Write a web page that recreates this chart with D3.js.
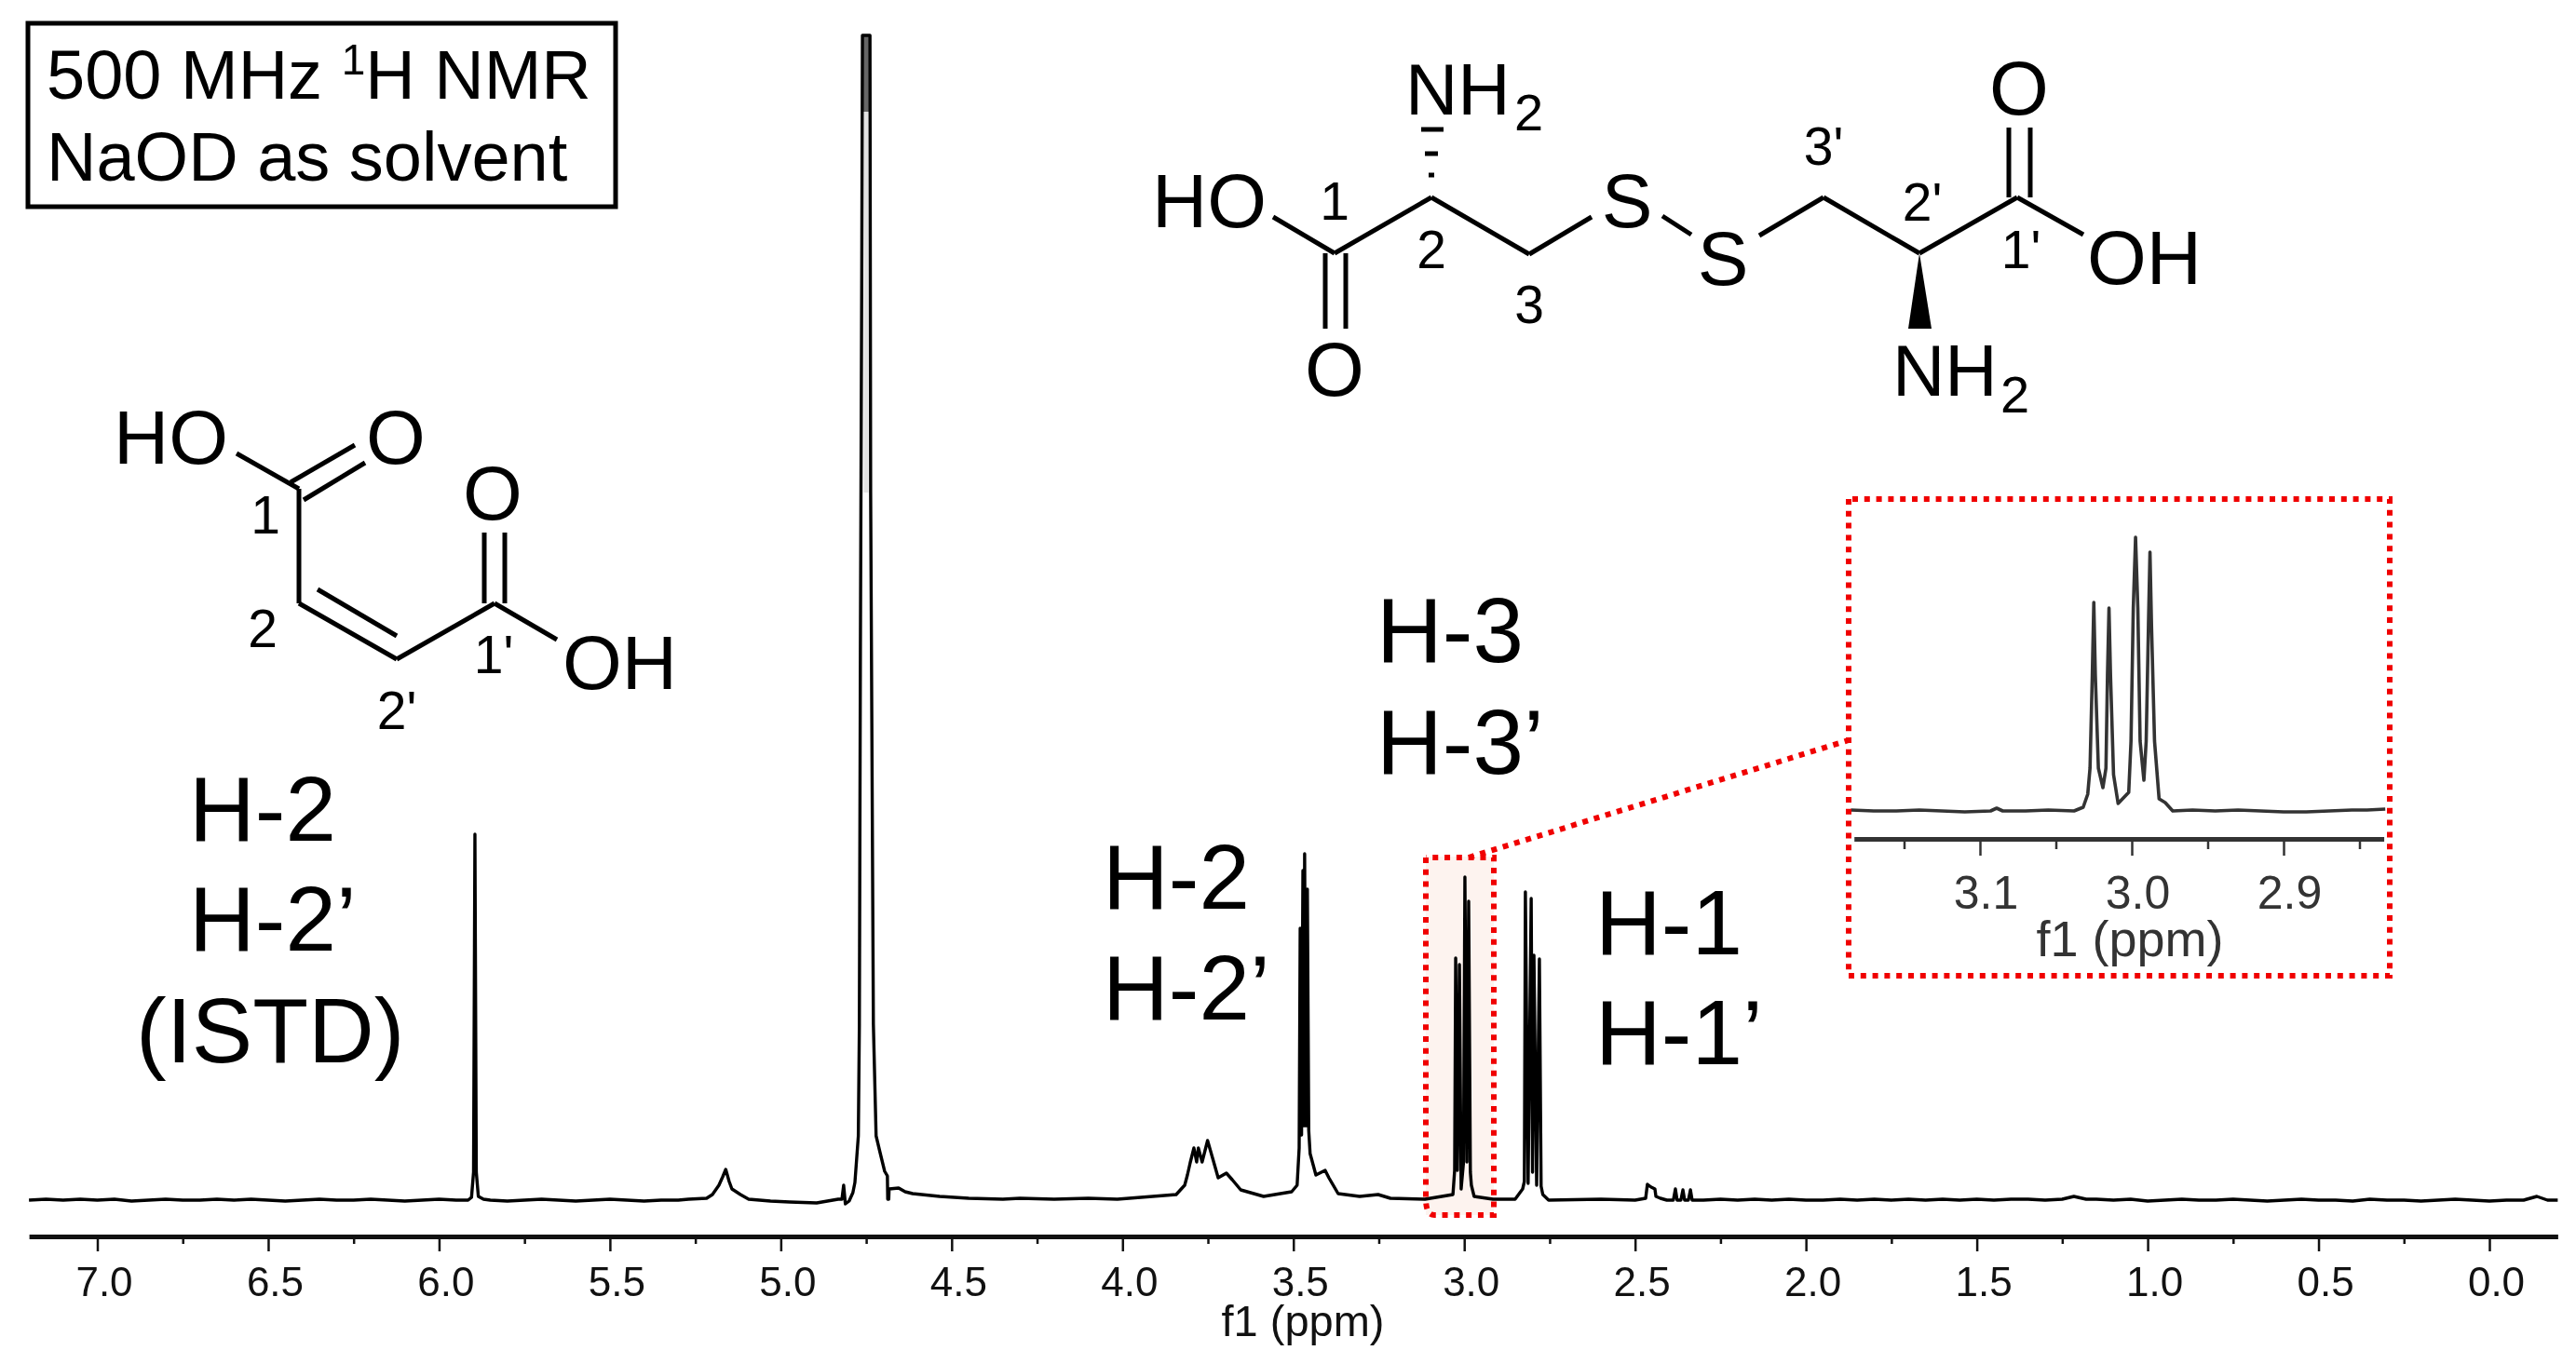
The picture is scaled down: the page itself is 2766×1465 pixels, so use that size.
<!DOCTYPE html>
<html>
<head>
<meta charset="utf-8">
<script src="https://cdn.jsdelivr.net/npm/d3@7/dist/d3.min.js"></script>
<style>
  html, body { margin: 0; padding: 0; background: #fff; }
  svg { display: block; filter: blur(0.7px); }
  text { font-family: "Liberation Sans", Arial, sans-serif; fill: #000; }
</style>
</head>
<body>
<svg id="chart" width="2766" height="1465"></svg>
<script>
// spectrum (ppm, intensity in a.u.)
const baseLeftPpm = [7.20, 7.15, 7.10, 7.05, 7.00, 6.95, 6.90, 6.85, 6.80, 6.75, 6.70, 6.65, 6.60, 6.55, 6.50, 6.45, 6.40, 6.35, 6.30, 6.25, 6.20, 6.15, 6.10, 6.05, 6.00, 5.95, 5.915];
const baseLeftInt = [0, 1, 0, 1, 0, 1, -1, 0, 1, 0, 0, 1, 0, 1, 0, -1, 0, 1, 0, 0, 1, 0, -1, 0, 1, 0, 0];

const maleicPpm = [5.905, 5.899, 5.895, 5.891, 5.885, 5.87];
const maleicInt = [3, 30, 393, 30, 4, 1];

const midPpm = [5.85, 5.80, 5.75, 5.70, 5.65, 5.60, 5.55, 5.50, 5.45, 5.40, 5.35, 5.30, 5.27, 5.217, 5.200, 5.181, 5.170, 5.161, 5.151, 5.143, 5.118, 5.094, 5.03, 4.974, 4.895, 4.832, 4.821];
const midInt = [0, -1, 0, 1, 0, -1, 0, 1, 0, -1, 0, 0, 1, 2, 6, 16, 25, 33, 20, 12, 6, 1, -1, -2, -3, 1, 1];

const waterPpm = [4.816, 4.811, 4.800, 4.789, 4.783, 4.778, 4.773, 4.770, 4.767, 4.763, 4.761, 4.739, 4.737, 4.729, 4.721, 4.710, 4.696, 4.688, 4.687, 4.684, 4.683, 4.655, 4.636, 4.614, 4.535, 4.45, 4.35, 4.30, 4.20, 4.10, 4.015];
const waterInt = [16, -4, -1, 8, 19, 44, 69, 189, 589, 1000, 1251, 1251, 760, 189, 69, 52, 31, 26, 1, 1, 12, 13, 9, 7, 4, 2, 1, 2, 1, 2, 1];

// the flat top of the water peak is filled in grey
const waterCorePpm = [4.75, 4.75];
const waterCoreInt = [1251, 1169];
const waterGapInt = [1169, 760];

const broadPpm = [3.843, 3.818, 3.810, 3.802, 3.791, 3.783, 3.778, 3.767, 3.751, 3.737, 3.720, 3.696, 3.679, 3.654, 3.587, 3.505, 3.489];
const broadInt = [6, 16, 27, 40, 56, 41, 56, 41, 64, 46, 24, 29, 22, 11, 4, 9, 16];

const h2Ppm = [3.483, 3.480, 3.476, 3.472, 3.469, 3.467, 3.463, 3.459, 3.455, 3.451, 3.448, 3.434, 3.407, 3.396, 3.369, 3.306, 3.252, 3.216, 3.115];
const h2Int = [56, 292, 70, 354, 80, 372, 80, 334, 75, 50, 46, 27, 32, 24, 7, 4, 6, 2, 1];

const h3Ppm = [3.033, 3.028, 3.025, 3.020, 3.014, 3.009, 3.002, 2.998, 2.992, 2.987, 2.982, 2.979, 2.971, 2.916];
const h3Int = [6, 32, 260, 32, 253, 12, 41, 347, 41, 321, 30, 16, 4, 1];

const h1Ppm = [2.851, 2.829, 2.824, 2.821, 2.813, 2.804, 2.800, 2.796, 2.788, 2.780, 2.775, 2.770, 2.753];
const h1Int = [1, 12, 20, 331, 18, 324, 30, 263, 16, 259, 15, 6, 0];

const smallPpm = [2.60, 2.50, 2.469, 2.464, 2.453, 2.442, 2.439, 2.426, 2.407, 2.388, 2.382, 2.377, 2.366, 2.360, 2.355, 2.344, 2.338, 2.333];
const smallInt = [1, 0, 2, 17, 14, 12, 4, 2, 0, 0, 12, 0, 0, 11, 0, 0, 11, 0];

const baseRightPpm = [2.30, 2.25, 2.20, 2.15, 2.10, 2.05, 2.00, 1.95, 1.90, 1.85, 1.80, 1.75, 1.70, 1.65, 1.60, 1.55, 1.50, 1.45, 1.40, 1.35, 1.30, 1.25, 1.216, 1.18, 1.15, 1.10, 1.05, 1.00, 0.95, 0.90, 0.85, 0.80, 0.75, 0.70, 0.65, 0.60, 0.55, 0.50, 0.45, 0.40, 0.35, 0.30, 0.25, 0.20, 0.15, 0.10, 0.05, 0.00, -0.05, -0.10, -0.139, -0.17, -0.20];
const baseRightInt = [0, 1, 0, 1, 0, 1, 0, 0, 1, 0, 1, 0, 1, 0, 1, 0, 1, 0, 1, 1, 0, 1, 4, 1, 1, 0, 1, -1, 0, 1, 0, 0, 1, 0, -1, 0, 1, 0, 0, -1, 1, 0, 0, -1, 0, 1, 0, -1, 0, 0, 4, 0, 0];

const ppmValues = [].concat(baseLeftPpm, maleicPpm, midPpm, waterPpm, broadPpm, h2Ppm, h3Ppm, h1Ppm, smallPpm, baseRightPpm);
const intensityValues = [].concat(baseLeftInt, maleicInt, midInt, waterInt, broadInt, h2Int, h3Int, h1Int, smallInt, baseRightInt);

// zoomed 3.0 ppm region
const insetPpm = [3.185, 3.17, 3.155, 3.14, 3.125, 3.11, 3.093, 3.089, 3.085, 3.07, 3.055, 3.038, 3.032, 3.029, 3.0275, 3.026, 3.025, 3.024, 3.022, 3.019, 3.017, 3.016, 3.015, 3.014, 3.012, 3.009, 3.002, 3.0005, 2.999, 2.9975, 2.996, 2.9945, 2.992, 2.9905, 2.989, 2.988, 2.987, 2.985, 2.982, 2.978, 2.973, 2.96, 2.945, 2.93, 2.915, 2.90, 2.885, 2.87, 2.855, 2.845, 2.833];
const insetInt = [1, 0, 0, 1, 0, -1, 0, 3, 0, 0, 1, 0, 4, 18, 46, 146, 224, 146, 46, 25, 46, 146, 218, 146, 39, 8, 20, 75, 218, 294, 218, 75, 33, 75, 200, 278, 200, 75, 13, 9, 0, 1, 0, 1, 0, -1, -1, 0, 1, 1, 2];

const mainTicks = [7.0, 6.5, 6.0, 5.5, 5.0, 4.5, 4.0, 3.5, 3.0, 2.5, 2.0, 1.5, 1.0, 0.5, 0.0];
const mainMinorTicks = [6.75, 6.25, 5.75, 5.25, 4.75, 4.25, 3.75, 3.25, 2.75, 2.25, 1.75, 1.25, 0.75, 0.25];
const insetTicks = [3.1, 3.0, 2.9];
const insetMinorTicks = [3.15, 3.05, 2.95, 2.85];

const svg = d3.select('#chart');

const x = d3.scaleLinear().domain([7.0, 0.0]).range([104.5, 2673]);
const y = d3.scaleLinear().domain([0, 1251]).range([1289, 38]);
const insetX = d3.scaleLinear().domain([3.1, 2.9]).range([2126, 2452]);
const insetY = d3.scaleLinear().domain([0, 294]).range([871, 577]);

function draw_trace(ppm, intensity, xScale, yScale, stroke, width) {
    const line = d3.line()
        .x(function(d) { return xScale(d[0]); })
        .y(function(d) { return yScale(d[1]); });
    svg.append('path')
        .attr('d', line(d3.zip(ppm, intensity)))
        .attr('fill', 'none')
        .attr('stroke', stroke)
        .attr('stroke-width', width)
        .attr('stroke-linejoin', 'round');
}

function draw_axis(xScale, yPos, majors, minors, fontSize, labelDx, labelY, majorLen, minorLen, color) {
    const minor = d3.axisBottom(xScale).tickValues(minors).tickSizeInner(minorLen).tickSizeOuter(0).tickFormat('');
    const g0 = svg.append('g').attr('transform', 'translate(0,' + yPos + ')').call(minor);
    g0.select('.domain').attr('stroke', color).attr('stroke-width', 5);
    g0.selectAll('.tick line').attr('stroke', color).attr('stroke-width', 2.5);

    const major = d3.axisBottom(xScale).tickValues(majors).tickSizeInner(majorLen).tickSizeOuter(0).tickFormat(d3.format('.1f'));
    const g = svg.append('g').attr('transform', 'translate(0,' + yPos + ')').call(major);
    g.select('.domain').remove();
    g.selectAll('.tick line').attr('stroke', color).attr('stroke-width', 2.5);
    g.selectAll('.tick text')
        .attr('y', labelY)
        .attr('dy', 0)
        .attr('dx', labelDx)
        .style('font-size', fontSize + 'px')
        .style('font-family', '"Liberation Sans", Arial, sans-serif')
        .style('fill', color);
}

function draw_text(str, xPos, yPos, size, anchor) {
    return svg.append('text')
        .attr('x', xPos)
        .attr('y', yPos)
        .attr('font-size', size)
        .attr('text-anchor', anchor || 'start')
        .text(str);
}

function draw_bonds(bonds, width) {
    svg.append('g').selectAll('line').data(bonds).enter().append('line')
        .attr('x1', function(d) { return d[0]; })
        .attr('y1', function(d) { return d[1]; })
        .attr('x2', function(d) { return d[2]; })
        .attr('y2', function(d) { return d[3]; })
        .attr('stroke', '#000')
        .attr('stroke-width', width);
}

function dotted_path(d) {
    svg.append('path')
        .attr('d', d)
        .attr('fill', 'none')
        .attr('stroke', '#f00000')
        .attr('stroke-width', 6)
        .attr('stroke-dasharray', '6 6.8');
}

// shaded region behind the spectrum
svg.append('rect')
    .attr('x', 1531).attr('y', 920)
    .attr('width', 73).attr('height', 385)
    .attr('fill', '#fdf3ef');

draw_trace(waterCorePpm, waterGapInt, x, y, '#e2e2e2', 5);
draw_trace(waterCorePpm, waterCoreInt, x, y, '#666', 10);
draw_trace(ppmValues, intensityValues, x, y, '#000', 3.4);

// main axis runs past the tick range on both sides
const axisX = d3.scaleLinear().domain([7.2, -0.2]).range([x(7.2), x(-0.2)]);
draw_axis(axisX, 1328, mainTicks, mainMinorTicks, 44, 7, 64, 16, 8, '#111');
draw_text('f1 (ppm)', 1399, 1435, 47, 'middle').style('fill', '#111');

// inset
draw_trace(insetPpm, insetInt, insetX, insetY, '#333', 3.6);
const insetAxisX = d3.scaleLinear().domain([3.183, 2.834]).range([insetX(3.183), insetX(2.834)]);
draw_axis(insetAxisX, 901, insetTicks, insetMinorTicks, 50, 6, 75, 18, 11, '#333');
draw_text('f1 (ppm)', 2287, 1027, 54, 'middle').style('fill', '#333');

dotted_path('M1985,536V1048H2566V536Z');
dotted_path('M1531,921V1287Q1531,1305 1540,1305H1604V921H1531');
dotted_path('M1577,921L1985,795');

// info box
svg.append('rect')
    .attr('x', 30).attr('y', 25).attr('width', 631).attr('height', 197)
    .attr('fill', 'none').attr('stroke', '#000').attr('stroke-width', 5);
const title = draw_text('500 MHz ', 50, 106, 74);
title.append('tspan').attr('font-size', 46).attr('dy', -26).text('1');
title.append('tspan').attr('dy', 26).text('H NMR');
draw_text('NaOD as solvent', 50, 194, 74);

// peak labels
draw_text('H-2', 203, 903, 98);
draw_text('H-2’', 203, 1021, 98);
draw_text('(ISTD)', 146, 1141, 98);
draw_text('H-3', 1478, 711, 98);
draw_text('H-3’', 1478, 831, 98);
draw_text('H-2', 1184, 976, 98);
draw_text('H-2’', 1184, 1095, 98);
draw_text('H-1', 1713, 1025, 98);
draw_text('H-1’', 1713, 1143, 98);

// maleic acid
draw_bonds([
    [254, 487, 321, 525], [312, 518, 381, 478], [326, 537, 392, 497],
    [321, 525, 321, 648], [321, 648, 426, 708], [341, 633, 426, 683],
    [426, 708, 531, 648], [520, 648, 520, 572], [542, 648, 542, 572],
    [531, 648, 598, 687]
], 5);
draw_text('HO', 122, 498, 82);
draw_text('O', 425, 498, 82, 'middle');
draw_text('O', 529, 558, 82, 'middle');
draw_text('OH', 604, 740, 82);
draw_text('1', 285, 573, 57, 'middle');
draw_text('2', 282, 695, 57, 'middle');
draw_text('1\'', 530, 723, 57, 'middle');
draw_text('2\'', 426, 783, 57, 'middle');

// cystine
draw_bonds([
    [1367, 233, 1433, 272], [1433, 272, 1537, 212], [1537, 212, 1642, 273],
    [1642, 273, 1709, 233], [1785, 232, 1816, 252], [1889, 253, 1958, 212],
    [1958, 212, 2061, 272], [2061, 272, 2166, 212], [2166, 212, 2237, 252],
    [1423, 272, 1423, 353], [1445, 272, 1445, 353],
    [2157, 212, 2157, 137], [2180, 212, 2180, 137]
], 5);
// hashed bond up, wedge bond down
draw_bonds([
    [1534, 188, 1540, 188], [1530, 165, 1544, 165], [1526, 139, 1550, 139]
], 5);
svg.append('path').attr('d', 'M2061,272L2049,353H2074Z').attr('fill', '#000');

draw_text('HO', 1237, 244, 82);
draw_text('NH', 1509, 123, 78);
draw_text('2', 1626, 140, 56);
draw_text('S', 1747, 244, 82, 'middle');
draw_text('S', 1850, 306, 82, 'middle');
draw_text('O', 1433, 425, 82, 'middle');
draw_text('O', 2168, 123, 82, 'middle');
draw_text('OH', 2241, 305, 82);
draw_text('NH', 2032, 425, 78);
draw_text('2', 2148, 443, 56);
draw_text('1', 1433, 236, 57, 'middle');
draw_text('2', 1537, 288, 57, 'middle');
draw_text('3', 1642, 347, 57, 'middle');
draw_text('3\'', 1958, 177, 57, 'middle');
draw_text('2\'', 2064, 237, 57, 'middle');
draw_text('1\'', 2170, 288, 57, 'middle');
</script>
</body>
</html>
